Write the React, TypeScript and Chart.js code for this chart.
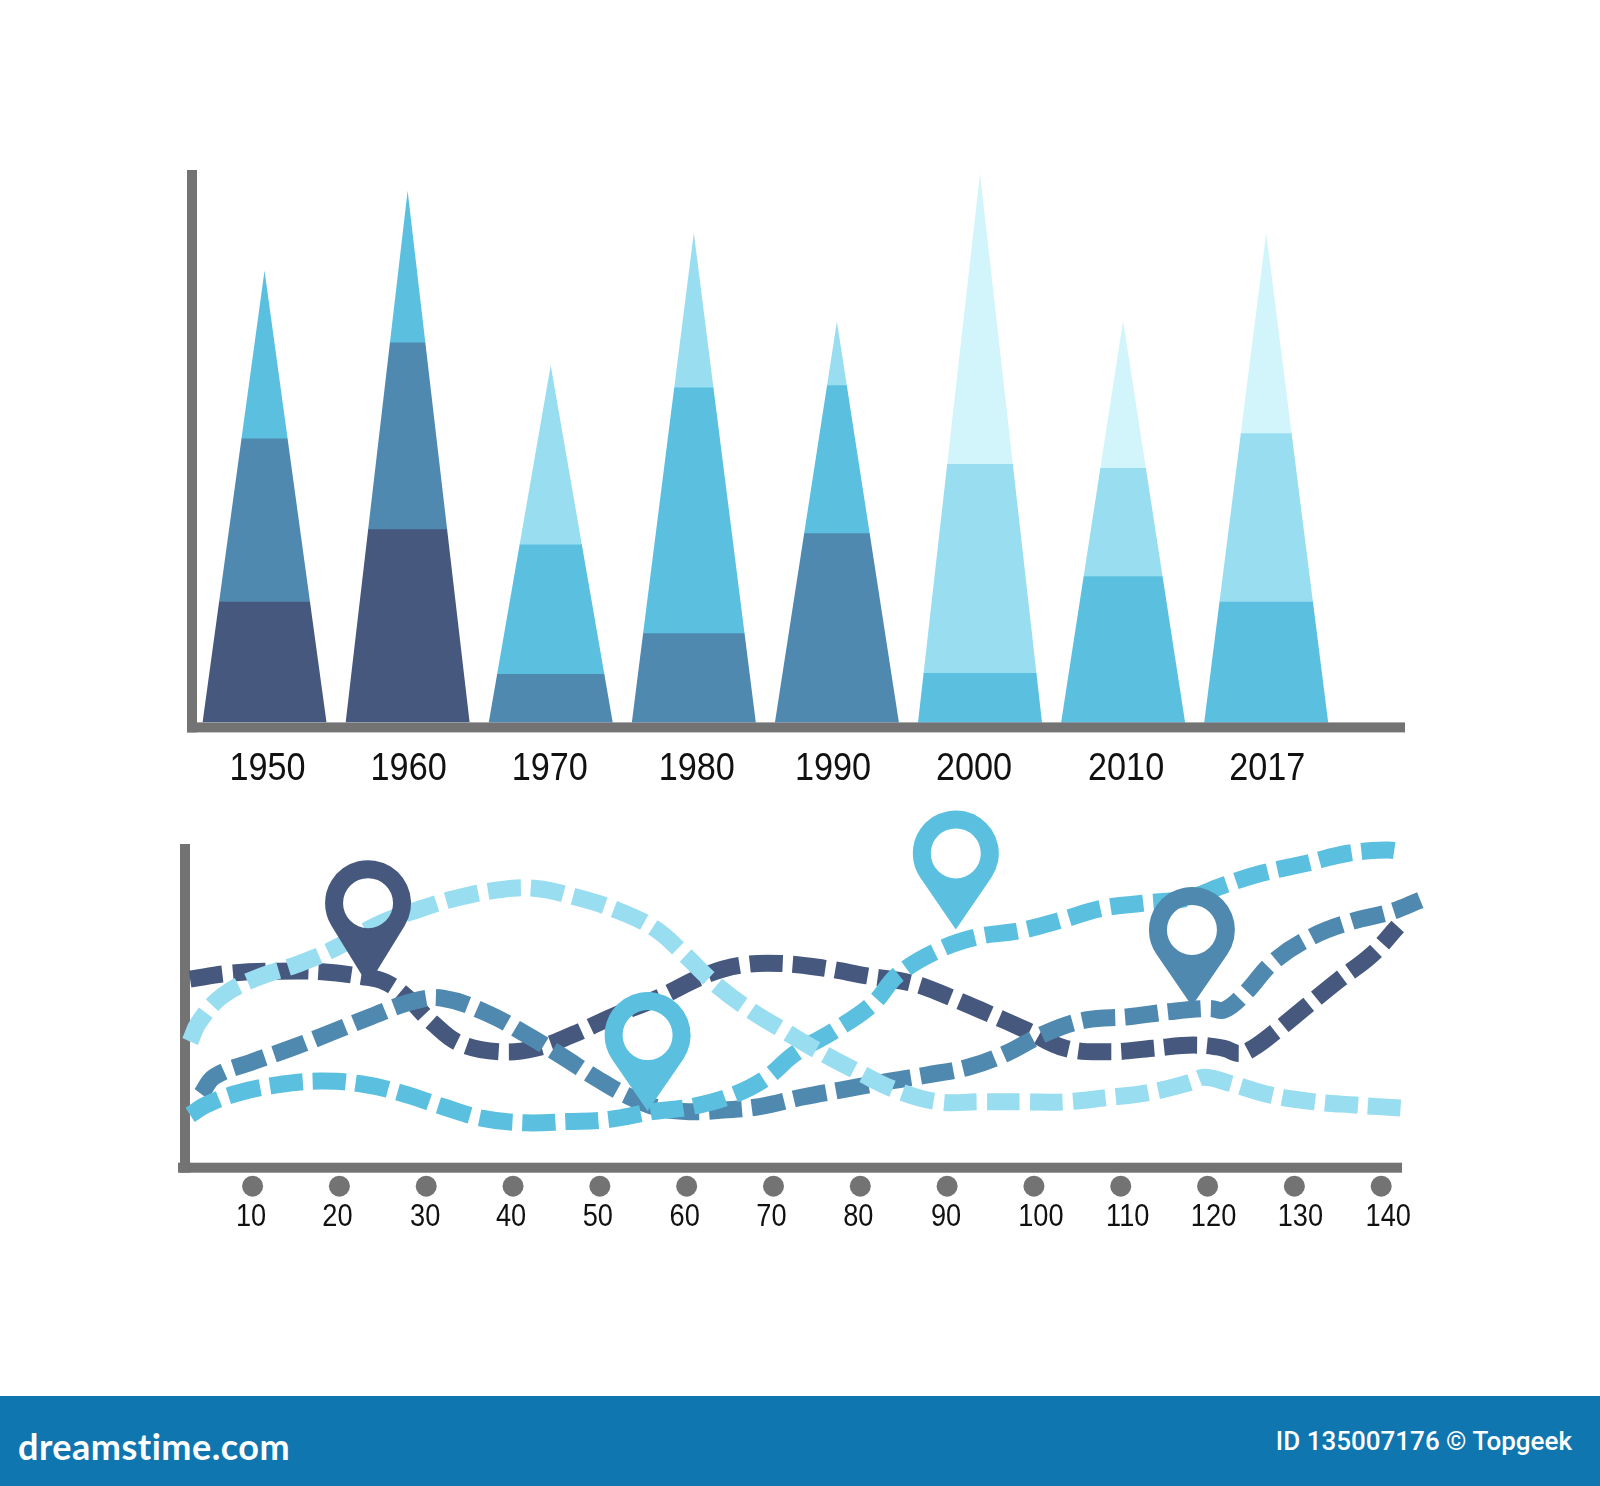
import React, { useEffect, useRef } from 'react';
import Chart from 'chart.js/auto';

const years = ['1950', '1960', '1970', '1980', '1990', '2000', '2010', '2017'];
const yearNudge = [3, 1, -1, 3, -4, -6, 3, 1];
const navyBand = [118, 189, 0, 0, 0, 0, 0, 0];
const steelBand = [160, 183, 47, 87, 185, 0, 0, 0];
const skyBand = [165, 149, 127, 241, 145, 48, 143, 118];
const lightBand = [0, 0, 176, 152, 63, 205, 106, 165];
const paleBand = [0, 0, 0, 0, 0, 285, 145, 197];

const tickNudge = [-1.5, -2, -1, -2, -2, -2, -2, -2, -1, 7, 7, 6, 6, 7];

const navyLine = [[2.8, 57.6], [7.2, 59.4], [12.8, 60.1], [18, 59.9], [22.6, 58.4], [25.2, 56.8], [27.7, 52.1], [30.8, 43.7], [33.9, 37.4], [38.5, 34.8], [42.6, 35.9], [46.8, 40.1], [51.4, 45.8], [57, 52.1], [62.2, 58.9], [66.3, 62], [70.9, 62.5], [75.9, 61], [80.8, 58.6], [86, 56.3], [90.2, 52.1], [94.7, 46.9], [99.1, 41.6], [103.6, 35.9], [108.8, 34.8], [113.7, 35.9], [118.4, 36.9], [121.9, 35.9], [123.6, 34.3], [125.2, 35.9], [127.8, 41.1], [131.3, 48.9], [135.1, 57.3], [138.9, 65.2], [141.9, 74.1]];
const steelLine = [[4.1, 21.5], [5.6, 27], [10, 31.7], [14.4, 35.9], [19.3, 41.1], [23.6, 45.8], [28.3, 50.5], [31.9, 51.6], [37, 46.9], [41.6, 40.1], [45.7, 33.3], [49.6, 26.5], [53.4, 20.7], [57, 17], [60.6, 16], [64.2, 16.5], [68.4, 17.6], [73.5, 20.7], [77.7, 22.8], [82.9, 25.4], [87.6, 27.5], [92.6, 30.1], [96.8, 34.3], [101.3, 40.6], [106, 44.8], [110.9, 45.8], [115.6, 47.4], [120.3, 48.4], [121.9, 47.9], [124.3, 53.1], [127.6, 63.1], [132, 70.9], [136.5, 75.6], [141.2, 78.8], [144.5, 82.4]];
const skyLine = [[2.8, 15], [4.6, 18.1], [8.2, 21.8], [12.8, 24.4], [17.7, 25.6], [22.6, 24.7], [27.2, 21.8], [31.9, 17.6], [36.5, 13.9], [41.4, 12.5], [46.2, 12.9], [51.1, 13.6], [56, 16], [60.6, 17.6], [65.3, 21.2], [69.1, 26.5], [72.5, 34.3], [77.1, 41.6], [81.5, 50], [84.3, 58.9], [89, 66.7], [93.5, 70.9], [98.4, 72.8], [103.1, 76.1], [107.8, 79.8], [112.5, 81.4], [117.7, 83], [121.9, 87.1], [126.2, 90.8], [131.3, 93.9], [136.2, 97.1], [140.7, 98.1], [142.4, 97.6]];
const lightLine = [[2.8, 38], [3.8, 44], [6.4, 52.1], [10.3, 57.8], [15.4, 62.5], [19.5, 67.3], [24.7, 75.1], [29.5, 79.8], [33.4, 83], [38.3, 85.6], [42.4, 86.1], [47, 83.5], [51.9, 79.3], [56.3, 73.5], [59.6, 65.7], [63.2, 56.3], [67.3, 47.9], [71.4, 41.1], [75, 35.3], [80.1, 28], [84.1, 22.8], [89, 19.1], [93.7, 19.1], [98.7, 19.1], [103.6, 19.1], [108.3, 20.4], [113.2, 22], [117.9, 25.1], [119.6, 26.8], [122.6, 24.9], [127.3, 21.2], [132.3, 19.1], [137, 18.1], [142.4, 17.1]];

const pinX = [23.3, 55.5, 91, 118.2];
const pinY = [55.7, 16.2, 73.2, 49.2];

const NAVY = '#47587f';
const STEEL = '#5089af';
const SKY = '#5bc0df';
const LIGHT = '#99ddf0';
const PALE = '#d2f5fc';
const GREY = '#737373';
const pinColors = [NAVY, SKY, SKY, STEEL];
const pinDrops = [82, 76, 76, 76];

// thick L shaped axis, sits outside the chart area
const axisBars = (overhang: number, endValue?: number) => ({
  id: 'axisBars',
  beforeDatasetsDraw(chart: any) {
    const { ctx, chartArea: a, scales } = chart;
    const right = endValue === undefined ? a.right : scales.x.getPixelForValue(endValue);
    ctx.save();
    ctx.fillStyle = GREY;
    ctx.fillRect(a.left - 10, a.top, 10, a.bottom - a.top + 10);
    ctx.fillRect(a.left - overhang, a.bottom, right - a.left + overhang, 10);
    ctx.restore();
  },
});

// the reference uses a condensed face, so the tick text is squeezed horizontally
const narrowTicks = (nudge: number[], size: number, squeeze: number, dy: number) => ({
  id: 'narrowTicks',
  afterDraw(chart: any) {
    const { ctx, chartArea: a, scales } = chart;
    ctx.save();
    ctx.fillStyle = '#111';
    ctx.font = `${size}px "Liberation Sans"`;
    ctx.textAlign = 'center';
    ctx.textBaseline = 'middle';
    scales.x.ticks.forEach((t: any, i: number) => {
      ctx.save();
      ctx.translate(scales.x.getPixelForValue(t.value) + nudge[i], a.bottom + dy);
      ctx.scale(squeeze, 1);
      ctx.fillText(t.label, 0, 0);
      ctx.restore();
    });
    ctx.restore();
  },
});

// stacked bars are cut down to one triangle per year
const triangleClip = {
  id: 'triangleClip',
  beforeDatasetDraw(chart: any) {
    const { ctx, scales } = chart;
    ctx.save();
    ctx.beginPath();
    years.forEach((_, i) => {
      const total = navyBand[i] + steelBand[i] + skyBand[i] + lightBand[i] + paleBand[i];
      const x = scales.x.getPixelForValue(i);
      const base = scales.y.getPixelForValue(0);
      ctx.moveTo(x, scales.y.getPixelForValue(total));
      ctx.lineTo(x + 62, base);
      ctx.lineTo(x - 62, base);
      ctx.closePath();
    });
    ctx.clip();
  },
  afterDatasetDraw(chart: any) {
    chart.ctx.restore();
  },
};

// grey dot under every x tick
const tickDots = {
  id: 'tickDots',
  afterDraw(chart: any) {
    const { ctx, chartArea: a, scales } = chart;
    ctx.save();
    ctx.fillStyle = GREY;
    scales.x.ticks.forEach((t: any) => {
      ctx.beginPath();
      ctx.arc(scales.x.getPixelForValue(t.value), a.bottom + 23.5, 10.5, 0, Math.PI * 2);
      ctx.fill();
    });
    ctx.restore();
  },
};

const mapPins = {
  id: 'mapPins',
  afterDatasetsDraw(chart: any) {
    const { ctx, scales } = chart;
    const r = 43;
    const hole = 25;
    pinX.forEach((v, i) => {
      const x = scales.x.getPixelForValue(v);
      const tip = scales.y.getPixelForValue(pinY[i]);
      const cy = tip - pinDrops[i];
      const a = Math.acos(r / pinDrops[i]);
      ctx.save();
      ctx.fillStyle = pinColors[i];
      ctx.beginPath();
      ctx.moveTo(x, tip);
      ctx.arc(x, cy, r, Math.PI / 2 - a, Math.PI / 2 + a, true);
      ctx.closePath();
      ctx.moveTo(x + hole, cy);
      ctx.arc(x, cy, hole, 0, Math.PI * 2);
      ctx.fill('evenodd');
      ctx.restore();
    });
  },
};

const toPoints = (line: number[][]) => line.map(([x, y]) => ({ x, y }));
const toBars = (band: number[]) => band.map((y, x) => ({ x, y }));

const lineDataset = (label: string, line: number[][], color: string) => ({
  label,
  data: toPoints(line),
  borderColor: color,
  borderWidth: 17,
  borderDash: [33, 10],
  borderCapStyle: 'butt' as const,
  pointRadius: 0,
  tension: 0.4,
  fill: false,
  clip: false as const,
});

const App: React.FC = () => {
  const barsRef = useRef<HTMLCanvasElement>(null);
  const linesRef = useRef<HTMLCanvasElement>(null);

  useEffect(() => {
    if (!barsRef.current || !linesRef.current) return;

    const bars = new Chart(barsRef.current, {
      type: 'bar',
      data: {
        datasets: [
          { label: 'navy', data: toBars(navyBand), backgroundColor: NAVY },
          { label: 'steel', data: toBars(steelBand), backgroundColor: STEEL },
          { label: 'sky', data: toBars(skyBand), backgroundColor: SKY },
          { label: 'light', data: toBars(lightBand), backgroundColor: LIGHT },
          { label: 'pale', data: toBars(paleBand), backgroundColor: PALE },
        ] as any,
      },
      options: {
        responsive: false,
        devicePixelRatio: 1,
        animation: false,
        barThickness: 124,
        layout: { padding: { left: 197, right: 195, top: 170, bottom: 17.6 } },
        plugins: { legend: { display: false }, tooltip: { enabled: false } },
        scales: {
          x: {
            type: 'linear',
            stacked: true,
            offset: false,
            min: -0.472,
            max: 7.97,
            afterFit: (s: any) => { s.height = 60; },
            grid: { display: false },
            border: { display: false },
            ticks: {
              display: false,
              stepSize: 1,
              includeBounds: false,
              autoSkip: false,
              callback: (v: any) => years[v],
            },
          },
          y: { display: false, stacked: true, min: 0, max: 541.4 },
        },
      } as any,
      plugins: [axisBars(10), triangleClip, narrowTicks(yearNudge, 38, 0.9, 47.5)],
    });

    const lines = new Chart(linesRef.current, {
      type: 'line',
      data: {
        datasets: [
          lineDataset('light', lightLine, LIGHT),
          lineDataset('sky', skyLine, SKY),
          lineDataset('steel', steelLine, STEEL),
          lineDataset('navy', navyLine, NAVY),
        ],
      },
      options: {
        responsive: false,
        devicePixelRatio: 1,
        animation: false,
        layout: { padding: { left: 190, right: 178, top: 44, bottom: 17.3 } },
        plugins: { legend: { display: false }, tooltip: { enabled: false } },
        scales: {
          x: {
            type: 'linear',
            min: 2.79,
            max: 144.7,
            afterFit: (s: any) => { s.height = 60; },
            grid: { display: false },
            border: { display: false },
            ticks: {
              display: false,
              stepSize: 10,
              includeBounds: false,
              autoSkip: false,
            },
          },
          y: { display: false, min: 0, max: 100 },
        },
      } as any,
      plugins: [axisBars(12, 142.4), tickDots, mapPins, narrowTicks(tickNudge, 32, 0.85, 54.3)],
    });

    return () => {
      bars.destroy();
      lines.destroy();
    };
  }, []);

  return (
    <div style={{ position: 'absolute', left: 0, top: 0, width: 1600, height: 1486, background: '#fff', overflow: 'hidden' }}>
      <canvas ref={barsRef} width={1600} height={800} style={{ position: 'absolute', left: 0, top: 0 }} />
      <canvas ref={linesRef} width={1600} height={440} style={{ position: 'absolute', left: 0, top: 800 }} />
      <div style={{ position: 'absolute', left: 0, top: 1396, width: 1600, height: 90, background: '#0f76b0', color: '#fff' }}>
        <span style={{ position: 'absolute', left: 18, top: 28, fontFamily: 'Lato, sans-serif', fontWeight: 700, fontSize: 36, lineHeight: '44px', letterSpacing: 0.5 }}>dreamstime.com</span>
        <span style={{ position: 'absolute', right: 28, top: 30, fontFamily: 'Roboto, sans-serif', fontWeight: 500, fontSize: 26, lineHeight: '30px' }}>ID 135007176 © Topgeek</span>
      </div>
    </div>
  );
};

export default App;
